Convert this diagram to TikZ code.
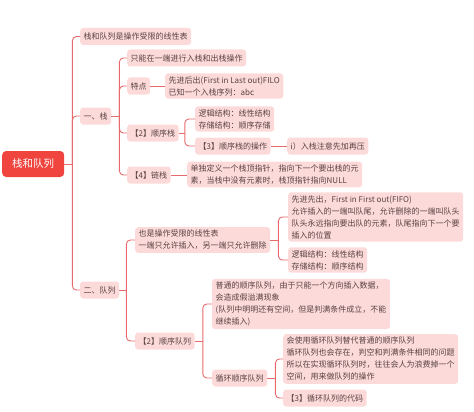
\documentclass[tikz,border=0pt]{standalone}
\usepackage{fontspec}
\newfontfamily\cjk{Noto Sans CJK SC}
\usetikzlibrary{positioning}
\definecolor{mmline}{HTML}{E96A6C}
\definecolor{mmfill}{HTML}{FCDADA}
\definecolor{mmtext}{HTML}{5A4242}
\definecolor{mmroot}{HTML}{F0453F}

\begin{document}
\begin{tikzpicture}[x=1pt, y=-1pt,
      topic/.style={fill=mmfill, rounded corners=3pt, anchor=west, align=left,
                    inner xsep=3.5pt, inner ysep=3pt, minimum height=17pt,
                    text=mmtext, font=\cjk\fontsize{8}{12}\selectfont},
      root/.style={fill=mmroot, rounded corners=4pt, anchor=west,
                   minimum width=62pt, minimum height=26pt, text=white,
                   font=\cjk\fontsize{10.5}{12}\selectfont},
      link/.style={draw=mmline, line width=0.9pt, rounded corners=4pt}]
    \useasboundingbox (0,0) rectangle (474,412);

    % root and first level
    \node[root] (root) at (2,164) {栈和队列};
    \node[topic] (n1) at (80,36.5) {栈和队列是操作受限的线性表};
    \node[topic] (stack) at (80,116) {一、栈};
    \node[topic] (queue) at (80,290) {二、队列};

    % stack
    \node[topic] (s1) at (127,58) {只能在一端进行入栈和出栈操作};
    \node[topic] (s2) at (127,86) {特点};
    \node[topic] (s2a) at (165,86) {先进后出(First in Last out)FILO\\已知一个入栈序列：abc};
    \node[topic] (s3) at (127,133) {【2】顺序栈};
    \node[topic] (s3a) at (195,119) {逻辑结构：线性结构\\存储结构：顺序存储};
    \node[topic] (s3b) at (195,146) {【3】顺序栈的操作};
    \node[topic] (s3b1) at (287,146) {i）入栈注意先加再压};
    \node[topic] (s4) at (127,175) {【4】链栈};
    \node[topic] (s4a) at (187,174.5) {单独定义一个栈顶指针，指向下一个要出栈的元\\素，当栈中没有元素时，栈顶指针指向NULL};

    % queue
    \node[topic] (q1) at (135,240) {也是操作受限的线性表\\一端只允许插入，另一端只允许删除};
    \node[topic] (q1a) at (288,217) {先进先出，First in First out(FIFO)\\允许插入的一端叫队尾，允许删除的一端叫队头\\队头永远指向要出队的元素，队尾指向下一个要\\插入的位置};
    \node[topic] (q1b) at (288,260) {逻辑结构：线性结构\\存储结构：顺序结构};
    \node[topic] (q2) at (135,341) {【2】顺序队列};
    \node[topic] (q2a) at (212,304) {普通的顺序队列，由于只能一个方向插入数据，\\会造成假溢满现象\\(队列中明明还有空间，但是判满条件成立，不能\\继续插入)};
    \node[topic] (q2b) at (212,378) {循环顺序队列};
    \node[topic] (q2b1) at (283,359) {会使用循环队列替代普通的顺序队列\\循环队列也会存在，判空和判满条件相同的问题\\所以在实现循环队列时，往往会人为浪费掉一个\\空间，用来做队列的操作};
    \node[topic] (q2b2) at (283,398) {【3】循环队列的代码};

    % junctions
    \path (root.east) ++(8,0) coordinate (jroot);
    \path (stack.east) ++(8,0) coordinate (jstack);
    \path (s3.east) ++(6,0) coordinate (js3);
    \path (queue.east) ++(7,0) coordinate (jqueue);
    \path (q1.east) ++(8,0) coordinate (jq1);
    \path (q2.east) ++(8,0) coordinate (jq2);
    \path (q2b.east) ++(8,0) coordinate (jq2b);

    % connectors
    \draw[link] (root.east) -- (jroot);
    \foreach \c in {n1,stack,queue} \draw[link] (jroot) |- (\c.west);
    \draw[link] (stack.east) -- (jstack);
    \foreach \c in {s1,s2,s3,s4} \draw[link] (jstack) |- (\c.west);
    \draw[link] (s2) -- (s2a);
    \draw[link] (s3.east) -- (js3);
    \foreach \c in {s3a,s3b} \draw[link] (js3) |- (\c.west);
    \draw[link] (s3b) -- (s3b1);
    \draw[link] (s4.east) -- (s4a.west |- s4.east);
    \draw[link] (queue.east) -- (jqueue);
    \foreach \c in {q1,q2} \draw[link] (jqueue) |- (\c.west);
    \draw[link] (q1.east) -- (jq1);
    \foreach \c in {q1a,q1b} \draw[link] (jq1) |- (\c.west);
    \draw[link] (q2.east) -- (jq2);
    \foreach \c in {q2a,q2b} \draw[link] (jq2) |- (\c.west);
    \draw[link] (q2b.east) -- (jq2b);
    \foreach \c in {q2b1,q2b2} \draw[link] (jq2b) |- (\c.west);
  \end{tikzpicture}
\end{document}
